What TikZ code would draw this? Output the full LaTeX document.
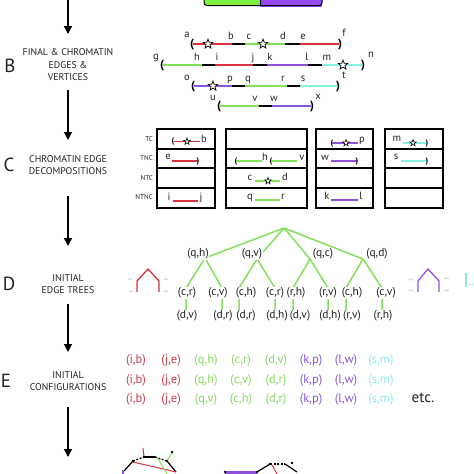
\documentclass[tikz,border=0pt]{standalone}
\usepackage{fontspec}
\setmainfont{PT Sans}
\usetikzlibrary{shapes.geometric,arrows.meta}
\definecolor{rd}{HTML}{D9333F}
\definecolor{gn}{HTML}{84E05A}
\definecolor{pu}{HTML}{9052DC}
\definecolor{cy}{HTML}{88F0E0}
\definecolor{rdt}{HTML}{D03A48}
\definecolor{gnt}{HTML}{88D860}
\definecolor{put}{HTML}{8858D0}
\definecolor{cyt}{HTML}{90E8E8}
\definecolor{txt}{HTML}{222222}
\definecolor{bargn}{HTML}{7CF040}
\definecolor{barpu}{HTML}{9848F0}
\tikzset{
  arr/.style={-{Triangle[length=8pt,width=8pt]}, line width=1.4pt},
  seclet/.style={font=\fontsize{19}{19}\selectfont, inner sep=0, text=txt},
  seclab/.style={font=\fontsize{9.8}{12.5}\selectfont, align=center, inner sep=0, text=txt},
  lt/.style={font=\fontsize{10.5}{10.5}\selectfont, inner sep=0, anchor=base, text=txt},
  seg/.style={line width=1.7pt},
  tseg/.style={line width=1.4pt},
  brk/.style={font=\bfseries\fontsize{12}{12}\selectfont, inner sep=0},
  sbrk/.style={font=\bfseries\fontsize{8}{8}\selectfont, inner sep=0},
  st/.style={star, star points=5, star point ratio=2.4, draw=black, fill=white, line width=0.7pt, minimum size=10pt, inner sep=0},
  sst/.style={st, minimum size=7pt, line width=0.6pt},
  box/.style={draw=black, line width=1.2pt},
  rowlab/.style={font=\fontsize{7}{7}\selectfont, inner sep=0, anchor=east, text=txt},
  tl/.style={font=\fontsize{11.5}{11.5}\selectfont, fill=white, inner sep=0.6pt, text=txt},
  tree/.style={gn, line width=1.5pt},
  tiny/.style={font=\fontsize{2.5}{2.5}\selectfont, inner sep=0, text=gray},
  conf/.style={font=\fontsize{12.5}{12.5}\selectfont, inner sep=0},
  dot/.style={circle, fill=black, inner sep=0, minimum size=2.6pt}
}
\begin{document}
\begin{tikzpicture}[x=1pt,y=-1pt]
\useasboundingbox (0,0) rectangle (474,474);
% top bar
\begin{scope}
\clip (204,-20) rectangle (322,6);
\fill[bargn, rounded corners=3pt] (204,-20) rectangle (322,5.5);
\fill[barpu] (260,-20) rectangle (322,10);
\end{scope}
\draw[line width=1pt, rounded corners=3pt] (204,-20) rectangle (322,5.5);
\draw[line width=0.8pt] (260,-20) -- (260,5.5);

% left column
\coordinate (a0s) at (68,0);
\coordinate (a0e) at (68,34);
\draw[arr] (a0s) -- (a0e);
\node[seclet] (lB) at (10,66) {B};
\node[seclab] (tB) at (68,65) {FINAL \& CHROMATIN\\EDGES \&\\VERTICES};
\node[seclet] (lC) at (9,165) {C};
\node[seclab] (tC) at (68,165) {CHROMATIN EDGE\\DECOMPOSITIONS};
\node[seclet] (lD) at (9,284) {D};
\node[seclab] (tD) at (68,284) {INITIAL\\EDGE TREES};
\node[seclet] (lE) at (6,381) {E};
\node[seclab] (tE) at (68,381) {INITIAL\\CONFIGURATIONS};
\coordinate (a1s) at (68,90);  \coordinate (a1e) at (68,140);
\coordinate (a2s) at (68,196); \coordinate (a2e) at (68,246);
\coordinate (a3s) at (68,304); \coordinate (a3e) at (68,352);
\coordinate (a4s) at (68,407); \coordinate (a4e) at (68,457);
\draw[arr] (a1s) -- (a1e);
\draw[arr] (a2s) -- (a2e);
\draw[arr] (a3s) -- (a3e);
\draw[arr] (a4s) -- (a4e);

% ---- B lines
% line 1
\draw[seg, rd] (193,44) -- (232,44);
\draw[seg, black] (232,44) -- (245,44);
\draw[seg, gn] (245,44) -- (285,44);
\draw[seg, black] (285,44) -- (300,44);
\draw[seg, rd] (300,44) -- (339,44);
\node[brk] (b1l) at (192,44.5) {(};
\node[brk] (b1r) at (340,44.5) {)};
\node[st] (s1) at (208,44) {};
\node[st] (s2) at (263,44) {};
\node[lt] (la) at (187,37) {a};
\node[lt] (lb) at (231,39.5) {b};
\node[lt] (lc) at (249,39.5) {c};
\node[lt] (ld) at (283,39.5) {d};
\node[lt] (le) at (303,39.5) {e};
\node[lt] (lf) at (344,36) {f};
% line 2
\draw[seg, gn] (163,65) -- (202,65);
\draw[seg, black] (202,65) -- (215,65);
\draw[seg, rd] (215,65) -- (253,65);
\draw[seg, black] (253,65) -- (267,65);
\draw[seg, pu] (267,65) -- (308,65);
\draw[seg, black] (308,65) -- (322,65);
\draw[seg, cy] (322,65) -- (362,65);
\node[brk] (b2l) at (162,65.5) {(};
\node[brk] (b2r) at (363,65.5) {)};
\node[st] (s3) at (343,65) {};
\node[lt] (lg) at (156,59) {g};
\node[lt] (lh) at (197,60.5) {h};
\node[lt] (li) at (217,60.5) {i};
\node[lt] (lj) at (253,60.5) {j};
\node[lt] (lk) at (270,60.5) {k};
\node[lt] (ll) at (307,60.5) {l};
\node[lt] (lm) at (327,60.5) {m};
\node[lt] (ln) at (371,57) {n};
% line 3
\draw[seg, pu] (194,86) -- (232,86);
\draw[seg, black] (232,86) -- (245,86);
\draw[seg, gn] (245,86) -- (287,86);
\draw[seg, black] (287,86) -- (300,86);
\draw[seg, cy] (300,86) -- (337,86);
\node[brk] (b3l) at (193,86.5) {(};
\node[brk] (b3r) at (338,86.5) {)};
\node[st] (s4) at (213,86) {};
\node[lt] (lo) at (187,80) {o};
\node[lt] (lp) at (230,81.5) {p};
\node[lt] (lq) at (248,81.5) {q};
\node[lt] (lr) at (283,81.5) {r};
\node[lt] (ls) at (303,81.5) {s};
\node[lt] (lt) at (344,78) {t};
% line 4
\draw[seg, gn] (220,106) -- (259,106);
\draw[seg, black] (259,106) -- (272,106);
\draw[seg, pu] (272,106) -- (311,106);
\node[brk] (b4l) at (219,106.5) {(};
\node[brk] (b4r) at (312,106.5) {)};
\node[lt] (lu) at (213,100) {u};
\node[lt] (lv) at (255,101.5) {v};
\node[lt] (lw) at (274,101.5) {w};
\node[lt] (lx) at (318,99) {x};

% ---- C tables
\foreach \xa/\xb in {157/215,226/307,316/373,385/443}{
  \draw[box] (\xa,129) rectangle (\xb,208);
  \foreach \yy in {149,168,188} \draw[box] (\xa,\yy) -- (\xb,\yy);
}
\node[rowlab] (rTC) at (153,139) {TC};
\node[rowlab] (rTNC) at (153,158) {TNC};
\node[rowlab] (rNTC) at (153,178) {NTC};
\node[rowlab] (rNTNC) at (153,197) {NTNC};
% T1
\draw[tseg, rd] (173,141.5) -- (200,141.5);
\node[sbrk] (t1a) at (173,142) {(};
\node[sst] (t1s) at (187,141.5) {};
\node[lt] (t1b) at (204,142.5) {b};
\draw[tseg, rd] (172,161) -- (198,161);
\node[lt] (t1e) at (168,159) {e};
\node[sbrk] (t1c) at (198,161.5) {)};
\draw[tseg, rd] (173,201) -- (198,201);
\node[lt] (t1i) at (169,200) {i};
\node[lt] (t1j) at (201,200) {j};
% T2
\draw[tseg, gn] (236,161) -- (262,161);
\node[sbrk] (t2a) at (236,161.5) {(};
\node[lt] (t2h) at (265,160) {h};
\draw[tseg, gn] (271,161) -- (297,161);
\node[sbrk] (t2b) at (271,161.5) {(};
\node[lt] (t2v) at (302,160) {v};
\draw[tseg, gn] (255,181) -- (280,181);
\node[sst] (t2s) at (268,181) {};
\node[lt] (t2c) at (250,180) {c};
\node[lt] (t2d) at (285,180) {d};
\draw[tseg, gn] (255,200) -- (280,200);
\node[lt] (t2q) at (250,199) {q};
\node[lt] (t2r) at (283,199) {r};
% T3
\draw[tseg, pu] (332,143) -- (358,143);
\node[sbrk] (t3a) at (332,143.5) {(};
\node[sst] (t3s) at (346,143) {};
\node[lt] (t3p) at (362,142) {p};
\draw[tseg, pu] (331,161) -- (357,161);
\node[lt] (t3w) at (325,160) {w};
\node[sbrk] (t3c) at (357,161.5) {)};
\draw[tseg, pu] (331,200) -- (358,200);
\node[lt] (t3k) at (327,199) {k};
\node[lt] (t3l) at (361,199) {l};
% T4
\draw[tseg, cy] (403,143) -- (427,143);
\node[sst] (t4s) at (413,143) {};
\node[sbrk] (t4c) at (427,143.5) {)};
\node[lt] (t4m) at (397,141) {m};
\draw[tseg, cy] (401,161) -- (427,161);
\node[sbrk] (t4d) at (427,161.5) {)};
\node[lt] (t4s2) at (396,159) {s};

% ---- D tree
\coordinate (root) at (284,228);
\coordinate (qh) at (205,258);
\coordinate (qv) at (257,259);
\coordinate (qc) at (310,259);
\coordinate (qd) at (363,259);
\draw[tree] (root) -- (qh); \draw[tree] (root) -- (qv);
\draw[tree] (root) -- (qc); \draw[tree] (root) -- (qd);
\draw[tree] (qh) -- (186,288) -- (186,310);
\draw[tree] (qh) -- (222,288) -- (222,310);
\draw[tree] (qv) -- (239,288) -- (239,310);
\draw[tree] (qv) -- (275,288) -- (275,310);
\draw[tree] (qc) -- (293,288) -- (293,310);
\draw[tree] (qc) -- (328,288) -- (328,310);
\draw[tree] (qd) -- (346,288) -- (346,310);
\draw[tree] (qd) -- (382,288) -- (382,310);
\node[tl] (n1) at (198,254) {(q,h)};
\node[tl] (n2) at (252,254) {(q,v)};
\node[tl] (n3) at (323,254) {(q,c)};
\node[tl] (n4) at (377,254) {(q,d)};
\foreach \xx/\tt [count=\i] in {187/{(c,r)},218/{(c,v)},246/{(c,h)},275/{(c,r)},296/{(r,h)},328/{(r,v)},352/{(c,h)},386/{(c,v)}}
  \node[tl] (m\i) at (\xx,293) {\tt};
\foreach \xx/\tt [count=\i] in {187/{(d,v)},223/{(d,r)},246/{(d,r)},277/{(d,h)},300/{(d,v)},330/{(d,h)},352/{(r,v)},383/{(r,h)}}
  \node[tl] (k\i) at (\xx,316) {\tt};
% small trees
\draw[rd, line width=1.3pt] (137,292) -- (137,281) -- (148,269) -- (159,281) -- (159,292);
\node[tiny] (ra) at (130,280) {(i,b)};
\node[tiny] (rb) at (131,292) {(j,e)};
\node[tiny] (rc) at (166,280) {(i,e)};
\node[tiny] (rd2) at (166,292) {(j,b)};
\draw[pu, line width=1.3pt] (418,292) -- (418,281) -- (428,269) -- (439,281) -- (439,292);
\node[tiny] (pa) at (411,280) {(k,p)};
\node[tiny] (pb) at (411,291) {(l,w)};
\node[tiny] (pc) at (447,279) {(k,w)};
\node[tiny] (pd) at (447,291) {(l,p)};
\draw[cy, line width=1.3pt] (466,273) -- (466,287);
\node[tiny] (ca) at (472,285) {(s,m)};

% ---- E configurations
\foreach \yy/\cc/\dd/\ee [count=\j] in {360/{(q,h)}/{(c,r)}/{(d,v)},380/{(q,h)}/{(c,v)}/{(d,r)},399/{(q,v)}/{(c,h)}/{(d,r)}}{
  \node[conf, text=rdt] (e\j a) at (136,\yy) {(i,b)};
  \node[conf, text=rdt] (e\j b) at (171,\yy) {(j,e)};
  \node[conf, text=gnt] (e\j c) at (206,\yy) {\cc};
  \node[conf, text=gnt] (e\j d) at (241,\yy) {\dd};
  \node[conf, text=gnt] (e\j e) at (276,\yy) {\ee};
  \node[conf, text=put] (e\j f) at (311,\yy) {(k,p)};
  \node[conf, text=put] (e\j g) at (346,\yy) {(l,w)};
  \node[conf, text=cyt] (e\j h) at (381,\yy) {(s,m)};
}
\node[font=\fontsize{15}{15}\selectfont, inner sep=0, text=txt] (etc) at (423,398) {etc.};

% ---- bottom graphs
\draw[line width=1.2pt] (124,471) -- (133,461);
\draw[line width=1.2pt, dash pattern=on 2pt off 1.5pt] (133,461) -- (144,457);
\draw[line width=1.2pt] (144,457) -- (155,457);
\draw[line width=1.2pt, dash pattern=on 2pt off 1.5pt] (155,457) -- (167,461);
\draw[line width=1.2pt] (167,461) -- (176,472);
\draw[rd, line width=1pt] (143,448) -- (144,457);
\draw[rd, line width=1pt] (133,462) -- (176,472);
\draw[gn, line width=1pt] (167,461) -- (172,453);
\draw[gn, line width=1pt] (157,457) -- (167,474);
\draw[pu, line width=1.5pt] (123,470) -- (123,474);
\node[dot] (v1) at (172,452) {};
\node[dot] (v2) at (133,461) {};
\node[dot] (v3) at (144,457) {};
\node[dot] (v4) at (155,457) {};
\node[dot] (v5) at (167,461) {};
\draw[pu, line width=3.2pt] (225,472.5) -- (257,472.5);
\draw[line width=1.2pt] (257,472) -- (270,464);
\draw[line width=1.2pt, dash pattern=on 2pt off 1.5pt] (270,464) -- (285,464);
\draw[line width=1.2pt] (285,464) -- (297,472);
\draw[rd, line width=1pt] (272,465) -- (277,474);
\node[dot] (w1) at (225,472) {};
\node[dot] (w2) at (257,472) {};
\node[dot] (w3) at (270,464) {};
\node[dot] (w4) at (292,463) {};
\end{tikzpicture}
\end{document}
